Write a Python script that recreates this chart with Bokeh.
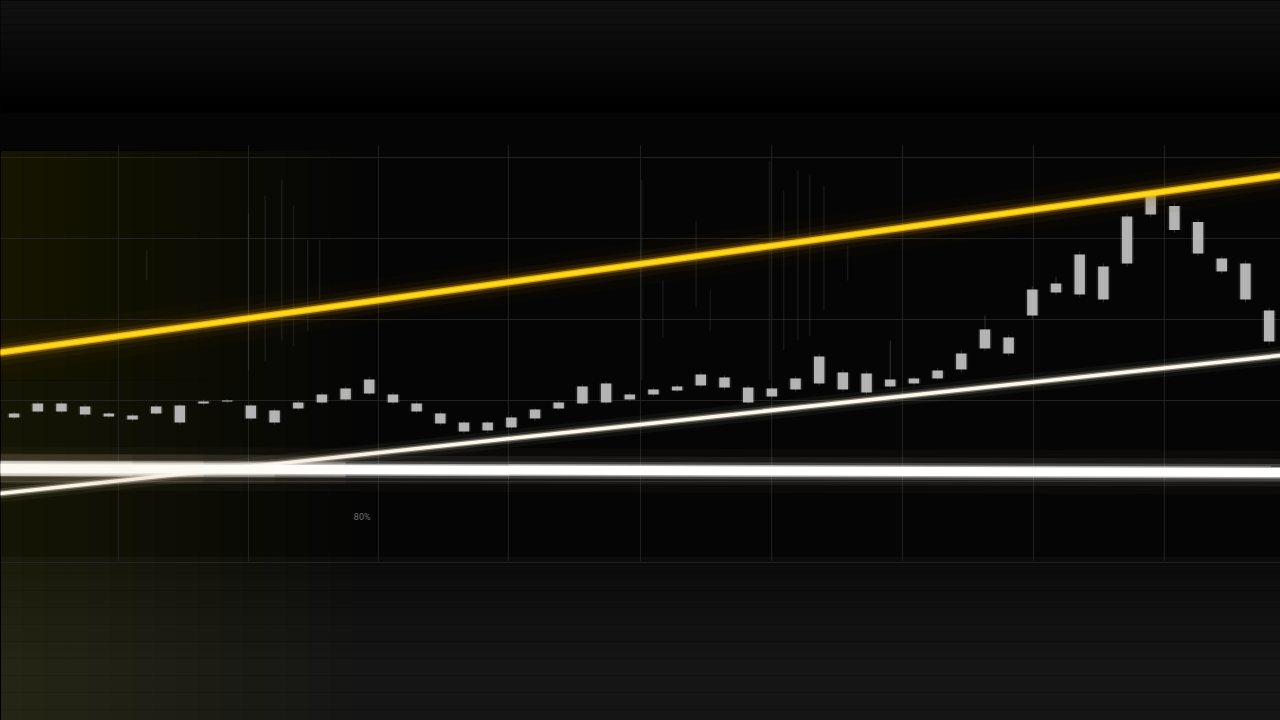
from bokeh.plotting import figure
from bokeh.models import ColumnDataSource, BoxAnnotation, Range1d
from bokeh.core.properties import value
from bokeh.embed import file_html
from bokeh.resources import INLINE

# ---------------- data ----------------
candle_idx = list(range(54))
opens = [57.90, 58.64, 59.63, 59.26, 58.40, 58.15, 58.40, 59.38, 59.63, 59.88,
         59.38, 58.77, 59.01, 59.75, 60.12, 60.86, 60.74, 59.63, 58.40, 57.28,
         56.30, 56.67, 57.78, 59.01, 59.63, 59.75, 60.74, 60.74, 61.23, 61.85,
         62.84, 61.60, 60.49, 61.36, 62.10, 63.46, 63.33, 61.73, 62.10, 62.72,
         63.83, 66.42, 67.78, 70.49, 73.33, 73.09, 76.54, 76.91, 82.96, 84.01,
         82.04, 77.53, 76.91, 71.11]
closes = [58.40, 59.63, 58.64, 58.27, 58.02, 57.65, 59.26, 57.28, 59.88, 60.00,
          57.78, 57.28, 59.75, 60.74, 61.48, 62.59, 59.75, 58.64, 57.16, 56.17,
          57.28, 57.90, 58.89, 59.75, 61.73, 62.10, 60.12, 61.36, 61.73, 63.21,
          61.60, 59.75, 61.48, 62.72, 65.43, 61.36, 60.99, 62.59, 62.72, 63.70,
          65.80, 68.77, 65.80, 73.70, 74.44, 78.02, 72.47, 82.72, 85.68, 81.05,
          78.15, 75.93, 72.47, 67.28]
highs = [58.6, 59.9, 59.9, 59.5, 58.6, 58.4, 59.5, 59.6, 60.1, 60.2,
         59.6, 59.0, 60.0, 61.0, 61.8, 62.9, 61.0, 59.9, 58.7, 57.5,
         57.5, 58.2, 59.1, 60.0, 62.0, 62.4, 61.0, 61.6, 62.0, 63.5,
         63.1, 61.9, 61.7, 63.0, 65.8, 63.8, 63.6, 67.4, 63.0, 64.0,
         66.2, 70.5, 68.1, 74.1, 75.3, 78.4, 76.9, 83.1, 86.1, 84.4,
         82.4, 77.8, 77.3, 71.5]
lows = [57.7, 58.4, 58.4, 58.0, 57.8, 57.4, 58.2, 57.0, 59.4, 59.7,
        57.5, 57.0, 58.8, 59.5, 59.9, 60.6, 59.5, 58.4, 56.9, 55.9,
        56.0, 56.4, 57.5, 58.8, 59.4, 59.5, 59.9, 60.5, 61.0, 61.6,
        61.3, 59.5, 60.2, 61.1, 61.8, 61.1, 60.7, 61.5, 61.9, 62.5,
        63.5, 66.1, 65.5, 70.1, 73.0, 72.7, 72.1, 76.5, 82.6, 80.7,
        77.8, 75.6, 72.1, 66.9]

# faint "ghost" wicks (historic overlay)
ghost_x = [5.6, 9.9, 10.6, 11.3, 11.8, 12.4, 12.9, 26.5, 27.4, 28.8, 29.4,
           31.9, 32.5, 33.1, 33.6, 34.2, 35.2]
ghost_top = [78.5, 83.1, 85.3, 87.2, 84.1, 79.8, 79.8, 87.2, 74.8, 82.2, 73.6,
             89.6, 85.9, 88.4, 87.8, 86.5, 79.1]
ghost_bottom = [74.8, 63.7, 64.9, 67.4, 66.8, 68.6, 72.4, 62.5, 67.8, 71.5, 68.6,
                62.5, 66.2, 67.4, 68.0, 71.1, 74.8]

# trend lines
trend_x = [-1, 54]
resistance_y = [65.75, 87.99]     # yellow
support_y = [48.38, 65.72]        # thin white diagonal
base_y = [51.60, 51.10]           # thick white level
flare_ends = [5, 8, 11, 14]       # brighter, wider part of the level on the left
flare_end_y = [51.55, 51.53, 51.50, 51.47]

# grid
grid_x = [4.41, 9.90, 15.39, 20.88, 26.45, 31.99, 37.52, 43.05, 48.58]
grid_y = [40, 50, 60, 70, 80, 90]
grid_span = [40.2, 91.5]

label_text = ["80%"]
label_x = [14.7]
label_y = [45.6]

# ---------------- figure ----------------
W, H = 1280, 720
X0, X1 = -0.574, 53.48
Y0, Y1 = 20.49, 109.38


def px_x(x):   # page pixel -> data x (decoration only)
    return X0 + (X1 - X0) * x / W


def px_y(y):   # page pixel -> data y (decoration only)
    return Y1 - (Y1 - Y0) * y / H


p = figure(width=W, height=H, output_backend="svg", toolbar_location=None,
           x_range=Range1d(X0, X1), y_range=Range1d(Y0, Y1),
           background_fill_color="#050505", border_fill_color="#050505",
           min_border=0, outline_line_color=None)
p.axis.visible = False
p.grid.visible = False

try:
    from bokeh.models import GlobalInlineStyleSheet
    p.stylesheets = [GlobalInlineStyleSheet(
        css="html, body { background: #050505; margin: 0; padding: 0; overflow: hidden; }")]
except Exception:
    pass


def band(y_top, y_bot, color, alpha=1.0, x_right=None):
    kw = dict(fill_color=color, fill_alpha=alpha, line_color=None, level="underlay")
    kw["top"] = px_y(y_top)
    kw["bottom"] = px_y(y_bot)
    if x_right is not None:
        kw["right"] = px_x(x_right)
    p.add_layout(BoxAnnotation(**kw))


def grey(v):
    v = int(round(v))
    return "#%02x%02x%02x" % (v, v, v)


# top fade: grey at the top to black around y=110
for k in range(14):
    y0 = k * 8
    band(y0, y0 + 8, grey(17 - 17 * k / 13))
# lower part: dark grey floor
for k in range(20):
    y0 = 556 + k * 8.5
    band(y0, y0 + 8.5, grey(11 + 10 * min(1, k / 12)))
band(726, 740, grey(21))

# warm, olive-brown tint on the left side
for k in range(16):
    band(150, 720, "#6e6634", 0.015, x_right=22 * (k + 1))
for k in range(8):
    band(150, 380, "#7a6420", 0.012, x_right=30 * (k + 1))

# grid
p.segment(x0=grid_x, y0=[grid_span[0]] * len(grid_x), x1=grid_x,
          y1=[grid_span[1]] * len(grid_x),
          line_color="#262626", line_width=1, line_alpha=0.9)
p.segment(x0=[X0] * len(grid_y), y0=grid_y, x1=[X1] * len(grid_y), y1=grid_y,
          line_color="#262626", line_width=1, line_alpha=0.9)

# ghost wicks
p.segment(x0=ghost_x, y0=ghost_bottom, x1=ghost_x, y1=ghost_top,
          line_color="#8a8a8a", line_width=1.5, line_alpha=0.14)

# candles
src = ColumnDataSource(dict(
    x=candle_idx,
    top=[max(o, c) for o, c in zip(opens, closes)],
    bottom=[min(o, c) for o, c in zip(opens, closes)],
    high=highs, low=lows,
))
p.segment(x0="x", y0="low", x1="x", y1="high", source=src,
          line_color="#bdbdbd", line_width=1, line_alpha=0.25)
p.vbar(x="x", width=0.58, top="top", bottom="bottom", source=src,
       fill_color="#cfcfcf", fill_alpha=0.12, line_color=None)
p.vbar(x="x", width=0.44, top="top", bottom="bottom", source=src,
       fill_color="#c0c0c0", fill_alpha=0.92, line_color=None)

# glowing yellow resistance line
for w, c, a in [(44, "#5a3c08", 0.05), (26, "#8a5c00", 0.08), (16, "#c88c00", 0.14),
                (10, "#eaa800", 0.3), (6.5, "#ffc400", 0.85), (4, "#ffd820", 1.0)]:
    p.line(trend_x, resistance_y, line_color=c, line_width=w, line_alpha=a)

# thin white support diagonal
for w, c, a in [(18, "#e0d2a8", 0.05), (10, "#eee4c4", 0.14), (6, "#f6eed8", 0.4),
                (3.5, "#fdf8ec", 1.0)]:
    p.line(trend_x, support_y, line_color=c, line_width=w, line_alpha=a)

# thick white level
for w, c, a in [(44, "#b0a488", 0.04), (28, "#d8d0c0", 0.08), (17, "#eeeeee", 0.2),
                (12, "#f8f8f8", 0.55), (9, "#ffffff", 1.0)]:
    p.line(trend_x, base_y, line_color=c, line_width=w, line_alpha=a)
for xe, ye in zip(flare_ends, flare_end_y):
    p.line([trend_x[0], xe], [base_y[0], ye], line_color="#fffdf6",
           line_width=15, line_alpha=0.22)
    p.line([trend_x[0], xe], [base_y[0], ye], line_color="#d8c8a0",
           line_width=30, line_alpha=0.03)

p.text(x=label_x, y=label_y, text=label_text, text_font=value("Roboto"),
       text_font_size="9px", text_color="#707070", text_align="center",
       text_baseline="middle")

open("out.html", "w").write(file_html(p, INLINE))
